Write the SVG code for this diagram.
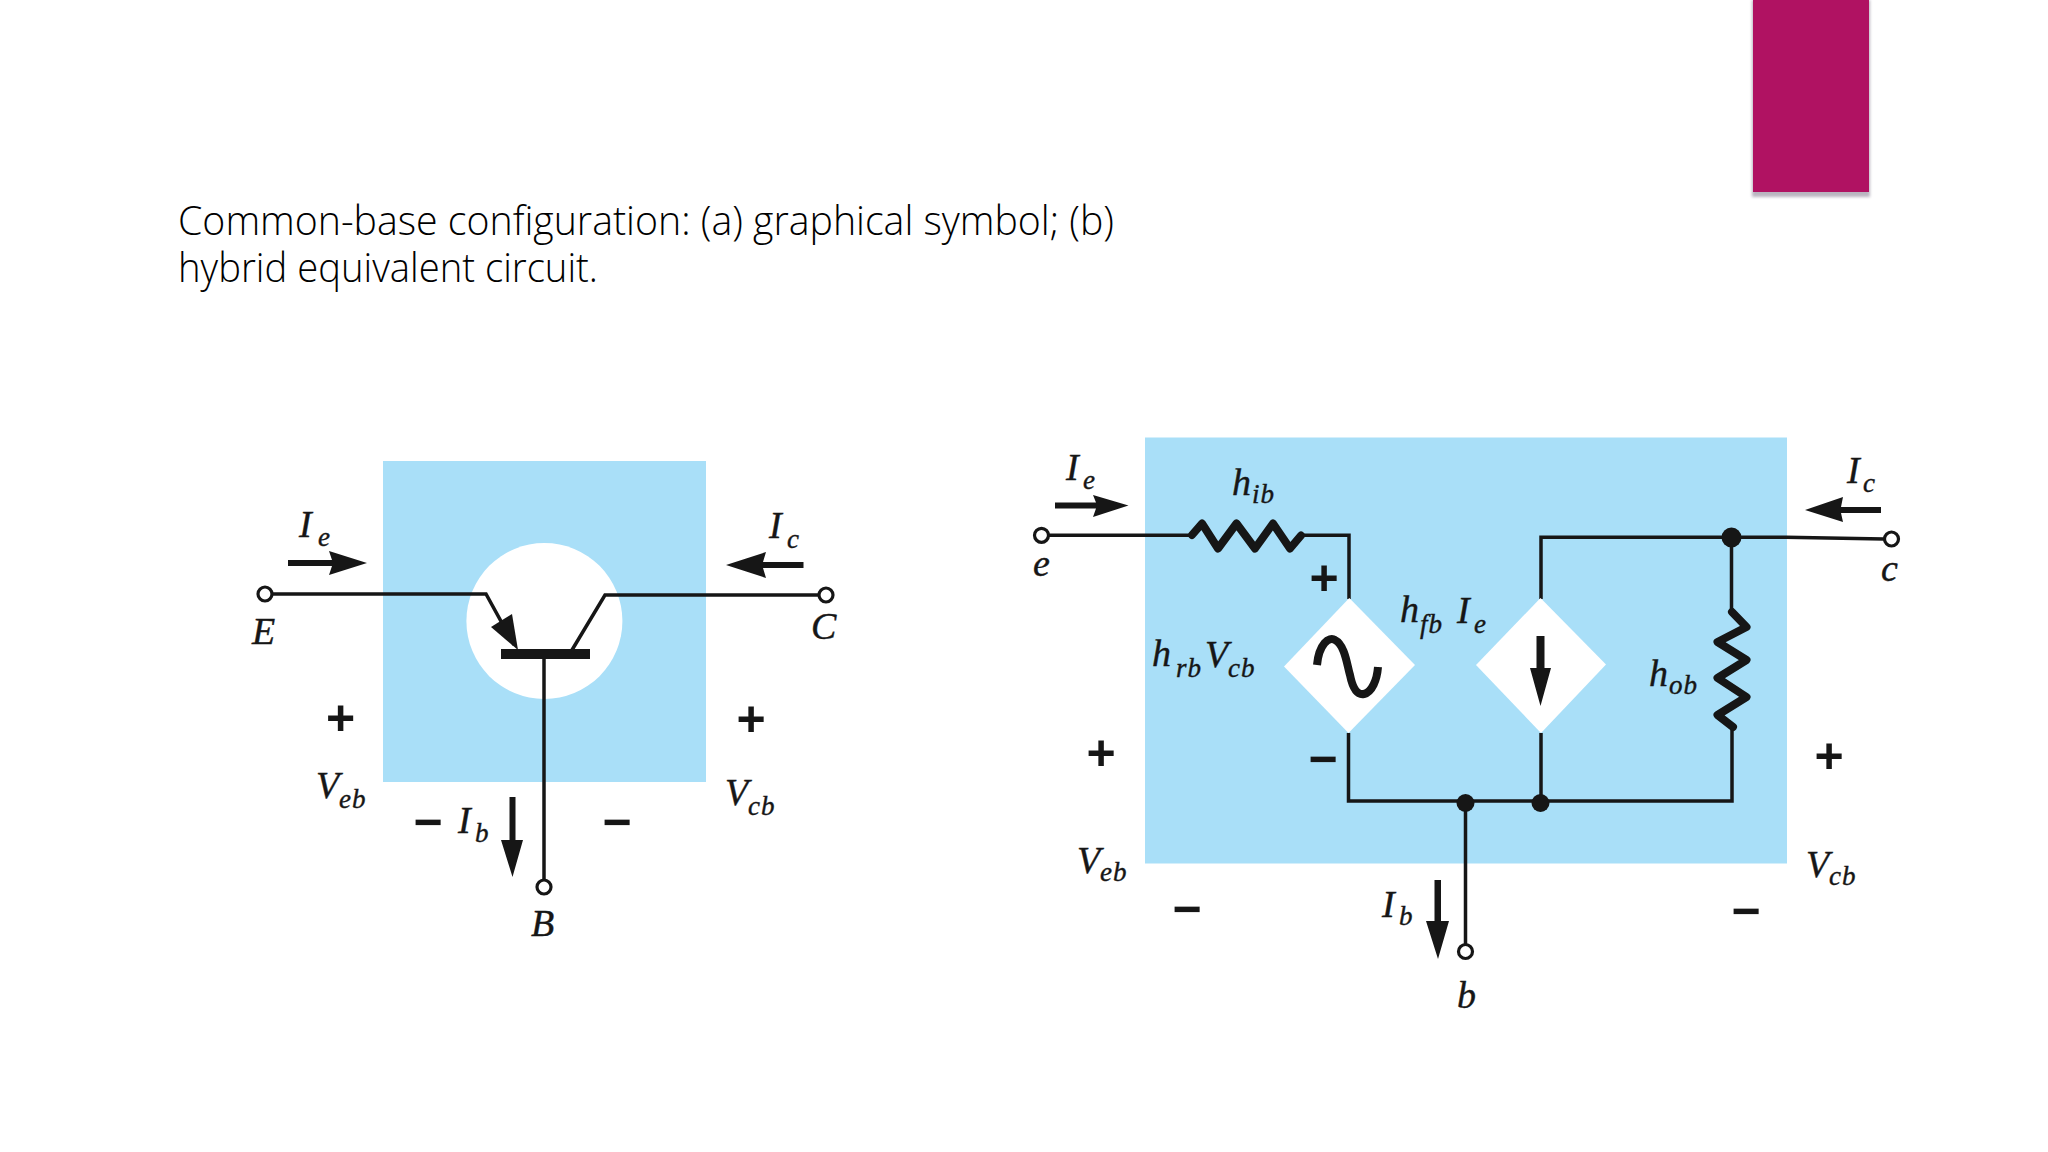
<svg xmlns="http://www.w3.org/2000/svg" width="2048" height="1152" viewBox="0 0 2048 1152">
<style>
.bl{fill:#a9dff8}
.w{fill:none;stroke:#161616;stroke-width:3.500;stroke-linejoin:miter}
.r{fill:none;stroke:#161616;stroke-width:8;stroke-linejoin:round;stroke-linecap:round}
.t{fill:#fff;stroke:#161616;stroke-width:3.200}
.d{fill:#161616}
.a{fill:#161616;stroke:none}
.m{font-family:"Liberation Serif",serif;font-style:italic;fill:#161616;font-size:38px;stroke:#161616;stroke-width:.4;font-variant-ligatures:none}
.s{font-size:27px;letter-spacing:1px}
.p{font-family:"Liberation Sans",sans-serif;font-weight:bold;fill:#161616;font-size:50px;text-anchor:middle}
.ttl{font-family:"Open Sans","Noto Sans",sans-serif;font-weight:300;fill:#000;font-size:41px}
</style>
<defs><filter id="sh" x="-10%" y="-50%" width="120%" height="200%"><feGaussianBlur stdDeviation="1.600"/></filter></defs>
<rect width="2048" height="1152" fill="#fff"/>
<g id="accent">
<rect x="1752" y="0" width="118" height="197" fill="#8c8496" opacity=".6" filter="url(#sh)"/>
<rect x="1753" y="0" width="116" height="192" fill="#b01262"/>
</g>
<g id="title">
<text class="ttl" x="178" y="235" textLength="936" lengthAdjust="spacingAndGlyphs">Common-base configuration: (a) graphical symbol; (b)</text>
<text class="ttl" x="178" y="282" textLength="420" lengthAdjust="spacingAndGlyphs">hybrid equivalent circuit.</text>
</g>
<g id="panels">
<rect class="bl" x="383" y="461" width="323" height="321"/>
<ellipse cx="544.400" cy="621" rx="78" ry="78" fill="#fff"/>
<rect class="bl" x="1145" y="437.500" width="642" height="426"/>
</g>
<g id="connectors">
<path class="w" d="M272 594H486L514 645"/>
<path class="w" d="M818 595H605L572 650"/>
<path class="w" d="M544 659V879"/>
<path class="w" d="M1049 535.300H1192"/>
<path class="w" d="M1301 535.300H1349V599"/>
<path class="w" d="M1348.500 733V801H1732V728"/>
<path class="w" d="M1541 599V537.300H1731.500V612"/>
<path class="w" d="M1731.500 537.300H1786L1884 539"/>
<path class="w" d="M1541 733V802"/>
<path class="w" d="M1465.500 802V944"/>
<path class="a" d="M288 560H332L329 551L367 563L329 575L332 566H288Z"/>
<path class="a" d="M803.500 562H763L766 552L726 565L766 578L763 568H803.500Z"/>
<path class="a" d="M509.500 797H515.500V840H523L512.500 877L501 840H509.500Z"/>
<path class="a" d="M1055 502.500H1096L1093 495L1128.500 505.500L1093 517L1096 508.500H1055Z"/>
<path class="a" d="M1881 507H1841L1843 497L1805 510L1843 522L1841 513H1881Z"/>
<path class="a" d="M1434.500 880H1441V921H1449L1438 959L1426 921H1434.500Z"/>
</g>
<g id="terminal-E"><circle class="t" cx="265" cy="594" r="7"/></g>
<g id="terminal-C"><circle class="t" cx="826" cy="595" r="7"/></g>
<g id="terminal-B"><circle class="t" cx="544" cy="887" r="7"/></g>
<g id="terminal-e"><circle class="t" cx="1041.500" cy="535.300" r="7"/></g>
<g id="terminal-c"><circle class="t" cx="1891.500" cy="539" r="7"/></g>
<g id="terminal-b"><circle class="t" cx="1465.500" cy="951.500" r="7"/></g>
<g id="transistor">
<rect class="d" x="501" y="649" width="89" height="10"/>
<path class="a" d="M518 650L491 627L499 622L512 614Z"/>
</g>
<g id="resistor-hib"><path class="r" d="M1192 535L1202 523.500L1218 548.500L1236.500 523.500L1255 548.500L1273 523.500L1290 548.500L1301 535.500"/></g>
<g id="source-hrb">
<path fill="#fff" d="M1349.300 598L1415 665L1348.500 733L1284 666.500Z"/>
<path class="r" d="M1317 665C1319 644 1329 636 1335 640C1345 645 1347 665 1350 675C1353 690 1358 695 1364 694C1372 692 1377 680 1378 667" style="stroke-linecap:butt"/>
</g>
<g id="source-hfb">
<path fill="#fff" d="M1540.500 598L1606 664.500L1541 733L1476 665Z"/>
<path class="a" d="M1536.500 636H1544.500V668H1551L1540.500 706L1530 668H1536.500Z"/>
</g>
<g id="resistor-hob"><path class="r" d="M1732 612L1746.500 627L1717.500 642L1746.500 660L1717.500 678L1746.500 697L1717.500 715L1733 727"/></g>
<g id="junctions">
<circle class="d" cx="1465.500" cy="803" r="9"/>
<circle class="d" cx="1540.500" cy="803" r="9"/>
<circle class="d" cx="1731.500" cy="537.500" r="10"/>
</g>
<g id="labels-a">
<text class="m" x="299" y="537">I</text><text class="m s" x="318" y="546">e</text>
<text class="m" x="769" y="538">I</text><text class="m s" x="787" y="548">c</text>
<text class="m" x="252" y="644">E</text>
<text class="m" x="811" y="639">C</text>
<text class="m" x="531" y="936">B</text>
<text class="m" x="316" y="798">V</text><text class="m s" x="339" y="808">eb</text>
<text class="m" x="725" y="805">V</text><text class="m s" x="748" y="815">cb</text>
<text class="m" x="458" y="833">I</text><text class="m s" x="475" y="842">b</text>
<text class="p" x="340.500" y="735">+</text>
<text class="p" x="751" y="736">+</text>
<text class="p" x="428" y="839">−</text>
<text class="p" x="617" y="839">−</text>
</g>
<g id="labels-b">
<text class="m" x="1066" y="480">I</text><text class="m s" x="1083" y="489">e</text>
<text class="m" x="1232" y="495">h</text><text class="m s" x="1252" y="503">ib</text>
<text class="m" x="1847" y="483">I</text><text class="m s" x="1863" y="492">c</text>
<text class="m" x="1033" y="576">e</text>
<text class="m" x="1881" y="581">c</text>
<text class="m" x="1457" y="1008">b</text>
<text class="m" x="1400" y="622">h</text><text class="m s" x="1420" y="633">fb</text>
<text class="m" x="1457" y="623">I</text><text class="m s" x="1474" y="633">e</text>
<text class="m" x="1152" y="666">h</text><text class="m s" x="1176" y="677">rb</text>
<text class="m" x="1205" y="667">V</text><text class="m s" x="1228" y="677">cb</text>
<text class="m" x="1649" y="686">h</text><text class="m s" x="1669" y="694">ob</text>
<text class="m" x="1077" y="873">V</text><text class="m s" x="1100" y="881">eb</text>
<text class="m" x="1806" y="877">V</text><text class="m s" x="1829" y="885">cb</text>
<text class="m" x="1382" y="917">I</text><text class="m s" x="1399" y="925">b</text>
<text class="p" x="1324" y="595">+</text>
<text class="p" x="1323" y="776">−</text>
<text class="p" x="1101" y="770">+</text>
<text class="p" x="1829" y="773">+</text>
<text class="p" x="1187" y="926">−</text>
<text class="p" x="1746" y="928">−</text>
</g>
</svg>
